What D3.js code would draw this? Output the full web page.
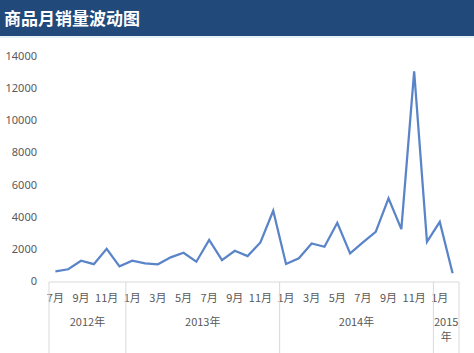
<!DOCTYPE html>
<html>
<head>
<meta charset="utf-8">
<script src="https://cdn.jsdelivr.net/npm/d3@7"></script>
<style>
  body { margin: 0; background: #fff; }
  svg { display: block; font-family: "Noto Sans CJK SC", "Noto Sans", sans-serif; }
</style>
</head>
<body>
<svg id="chart"></svg>
<script>
// chart data
const title = "商品月销量波动图";
const monthLabels = ["7月","8月","9月","10月","11月","12月",
  "1月","2月","3月","4月","5月","6月","7月","8月","9月","10月","11月","12月",
  "1月","2月","3月","4月","5月","6月","7月","8月","9月","10月","11月","12月",
  "1月","2月"];
const sales = [600, 730, 1260, 1050, 2000, 910,
  1260, 1100, 1040, 1470, 1760, 1200, 2550, 1300, 1880, 1550, 2400, 4370,
  1060, 1410, 2340, 2130, 3620, 1720, 2400, 3060, 5140, 3230, 13040, 2440,
  3680, 480];
const yearLabels = ["2012年", "2013年", "2014年", "2015年"];
const yearCounts = [6, 12, 12, 2];
const yTicks = [0, 2000, 4000, 6000, 8000, 10000, 12000, 14000];

const W = 474, H = 353;
const svg = d3.select("#chart").attr("width", W).attr("height", H);

// title bar
svg.append("rect").attr("x", 0).attr("y", 0).attr("width", W).attr("height", 36)
  .attr("fill", "#214a7b");
svg.append("rect").attr("x", 0).attr("y", 36).attr("width", W).attr("height", 2)
  .attr("fill", "#e6f1f8");
svg.append("text").attr("x", 4).attr("y", 25)
  .attr("fill", "#fff").style("font-size", "17px").style("font-weight", "bold")
  .text(title);

const idx = d3.range(sales.length);
const x = d3.scaleBand().domain(idx).range([49, 459]).padding(0);
const y = d3.scaleLinear().domain([0, 14000]).range([281, 56]);

// y axis labels
const yAxisG = svg.append("g").attr("transform", "translate(49,0)")
  .call(d3.axisLeft(y).tickValues(yTicks).tickSize(0).tickPadding(12).tickFormat(d3.format("d")));
yAxisG.select(".domain").remove();
yAxisG.selectAll("text").attr("fill", "#595959").style("font-size", "11px")
  .style("font-family", "'Noto Sans', sans-serif");

// x axis line
svg.append("line").attr("x1", 49).attr("x2", 459).attr("y1", 282).attr("y2", 282)
  .attr("stroke", "#d9d9d9");

// month labels (every other)
svg.append("g").selectAll("text")
  .data(idx.filter(i => i % 2 === 0))
  .join("text")
  .attr("x", i => x(i) + x.bandwidth() / 2)
  .attr("y", 302)
  .attr("text-anchor", "middle")
  .attr("fill", "#595959")
  .style("font-size", "11px")
  .text(i => monthLabels[i]);

// year groups with separators
const starts = yearCounts.map((c, i) => d3.sum(yearCounts.slice(0, i)));
const bounds = starts.concat([sales.length]);
svg.append("g").selectAll("line")
  .data(bounds)
  .join("line")
  .attr("x1", b => b < sales.length ? x(b) : x(sales.length - 1) + x.bandwidth())
  .attr("x2", b => b < sales.length ? x(b) : x(sales.length - 1) + x.bandwidth())
  .attr("y1", 282).attr("y2", 353)
  .attr("stroke", "#d9d9d9");

const yearG = svg.append("g");
yearLabels.forEach((lab, i) => {
  const x0 = x(starts[i]);
  const x1 = x(starts[i] + yearCounts[i] - 1) + x.bandwidth();
  const cx = (x0 + x1) / 2;
  const t = yearG.append("text").attr("x", cx).attr("y", 326)
    .attr("text-anchor", "middle").attr("fill", "#595959").style("font-size", "11px");
  if (x1 - x0 < 40) {
    // narrow group wraps
    t.append("tspan").attr("x", cx).text(lab.slice(0, 4));
    t.append("tspan").attr("x", cx).attr("dy", 15).text(lab.slice(4));
  } else {
    t.text(lab);
  }
});

// line
const line = d3.line()
  .x(i => x(i) + x.bandwidth() / 2)
  .y(i => y(sales[i]));
svg.append("path")
  .datum(idx)
  .attr("d", line)
  .attr("fill", "none")
  .attr("stroke", "#5a84c8")
  .attr("stroke-width", 2.25)
  .attr("stroke-linejoin", "miter");
</script>
</body>
</html>
